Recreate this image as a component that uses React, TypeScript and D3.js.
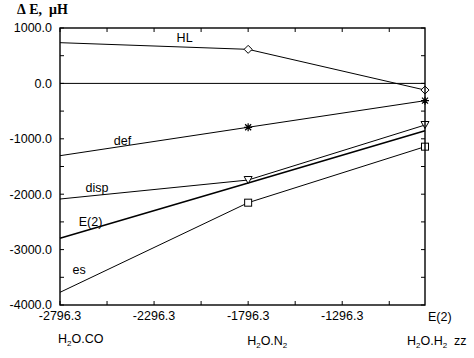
import React, { useRef, useEffect } from 'react'
import * as d3 from 'd3'

// E(2) values of the three complexes (x positions)
const complexes = ['H2O.CO', 'H2O.N2', 'H2O.H2 zz']
const e2 = [-2796.3, -1796.3, -856.3]

// energy components, μH
const hl = [735, 615, -120]
const def = [-1305, -792, -312]
const disp = [-2087, -1744, -751]
const es = [-3771, -2153, -1142]

const xTickValues = [-2796.3, -2296.3, -1796.3, -1296.3]
const yTickValues = [1000, 0, -1000, -2000, -3000, -4000]

const series = [
  { name: 'HL', values: hl, marker: 'diamond', width: 1, label: [-2134, 747] },
  { name: 'def', values: def, marker: 'star', width: 1, label: [-2464, -1112] },
  { name: 'disp', values: disp, marker: 'triangle', width: 1, label: [-2600, -1960] },
  { name: 'E(2)', values: e2, marker: null, width: 1.6, label: [-2634, -2574] },
  { name: 'es', values: es, marker: 'square', width: 1, label: [-2695, -3440] },
]

const width = 474
const height = 358
const marginLeft = 60
const marginRight = 49
const marginTop = 28
const marginBottom = 53

const fmt = v => d3.format('.1f')(v).replace('\u2212', '-')

const Chart = () => {
  const svgRef = useRef(null)

  useEffect(() => {
    const svg = d3.select(svgRef.current)
    svg.selectAll('*').remove()

    const x = d3.scaleLinear([e2[0], e2[2]], [marginLeft, width - marginRight])
    const y = d3.scaleLinear([-4000, 1000], [height - marginBottom, marginTop])
    const sans = 'Liberation Sans, Arial, sans-serif'

    // minor + major ticks, all pointing inward
    const xt = d3.range(e2[0], e2[2], 250)
    const yt = d3.range(-4000, 1001, 500)
    const tk = svg.append('g').attr('stroke', '#000').attr('stroke-width', 1)
    xt.forEach(v => {
      tk.append('line').attr('x1', x(v)).attr('x2', x(v)).attr('y1', y(-4000)).attr('y2', y(-4000) - 4)
      tk.append('line').attr('x1', x(v)).attr('x2', x(v)).attr('y1', y(1000)).attr('y2', y(1000) + 4)
    })
    yt.forEach(v => {
      tk.append('line').attr('x1', x(e2[0])).attr('x2', x(e2[0]) + 4).attr('y1', y(v)).attr('y2', y(v))
      tk.append('line').attr('x1', x(e2[2])).attr('x2', x(e2[2]) - 4).attr('y1', y(v)).attr('y2', y(v))
    })

    // zero line
    svg.append('line')
      .attr('x1', x(e2[0])).attr('x2', x(e2[2]))
      .attr('y1', y(0)).attr('y2', y(0))
      .attr('stroke', '#000').attr('stroke-width', 1)

    const line = d3.line<number>().x((d, i) => x(e2[i])).y(d => y(d))

    series.forEach(s => {
      svg.append('path')
        .attr('d', line(s.values))
        .attr('fill', 'none')
        .attr('stroke', '#000')
        .attr('stroke-width', s.width)
    })

    // markers at the two right-hand complexes
    const mk = svg.append('g').attr('stroke', '#000').attr('stroke-width', 1).attr('fill', '#fff')
    series.forEach(s => {
      if (!s.marker) return
      ;[1, 2].forEach(i => {
        const cx = x(e2[i]), cy = y(s.values[i])
        if (s.marker === 'diamond') {
          mk.append('path').attr('d', `M${cx},${cy - 4}L${cx + 4},${cy}L${cx},${cy + 4}L${cx - 4},${cy}Z`)
        } else if (s.marker === 'square') {
          mk.append('rect').attr('x', cx - 3.5).attr('y', cy - 3.5).attr('width', 7).attr('height', 7)
        } else if (s.marker === 'triangle') {
          mk.append('path').attr('d', `M${cx - 4},${cy - 3.5}L${cx + 4},${cy - 3.5}L${cx},${cy + 3.5}Z`)
        } else if (s.marker === 'star') {
          mk.append('path')
            .attr('d', `M${cx - 4},${cy}L${cx + 4},${cy}M${cx},${cy - 4}L${cx},${cy + 4}M${cx - 3},${cy - 3}L${cx + 3},${cy + 3}M${cx - 3},${cy + 3}L${cx + 3},${cy - 3}`)
            .attr('stroke-width', 1.2)
        }
      })
    })

    // series labels
    series.forEach(s => {
      svg.append('text')
        .attr('x', x(s.label[0])).attr('y', y(s.label[1]))
        .attr('text-anchor', 'middle')
        .attr('font-family', sans).attr('font-size', 12.5)
        .text(s.name)
    })

    // frame
    svg.append('rect')
      .attr('x', x(e2[0])).attr('y', y(1000))
      .attr('width', x(e2[2]) - x(e2[0])).attr('height', y(-4000) - y(1000))
      .attr('fill', 'none').attr('stroke', '#000').attr('stroke-width', 1.4)

    // y tick labels
    svg.append('g').selectAll('text').data(yTickValues).join('text')
      .attr('x', marginLeft - 8).attr('y', d => y(d)).attr('dy', '0.35em')
      .attr('text-anchor', 'end')
      .attr('font-family', sans).attr('font-size', 12.5)
      .text(d => fmt(d))

    // x tick labels
    svg.append('g').selectAll('text').data(xTickValues).join('text')
      .attr('x', d => x(d)).attr('y', height - marginBottom + 15)
      .attr('text-anchor', 'middle')
      .attr('font-family', sans).attr('font-size', 12.5)
      .text(d => fmt(d))
    svg.append('text')
      .attr('x', x(e2[2]) + 3).attr('y', height - marginBottom + 16)
      .attr('font-family', sans).attr('font-size', 12.5)
      .text('E(2)')

    // complex names with subscripts
    const names = svg.append('g').attr('font-family', sans).attr('font-size', 12.5)
    const sub = (t, s) => {
      t.append('tspan').attr('font-size', 8).attr('dy', 3).text(s)
      return t
    }
    const t0 = names.append('text').attr('x', x(e2[0]) - 2).attr('y', height - 15)
    t0.append('tspan').text('H')
    sub(t0, '2')
    t0.append('tspan').attr('dy', -3).text('O.CO')

    const t1 = names.append('text').attr('x', x(e2[1]) - 1).attr('y', height - 13)
    t1.append('tspan').text('H')
    sub(t1, '2')
    t1.append('tspan').attr('dy', -3).text('O.N')
    sub(t1, '2')

    const t2 = names.append('text').attr('x', x(e2[2]) - 18).attr('y', height - 13)
    t2.append('tspan').text('H')
    sub(t2, '2')
    t2.append('tspan').attr('dy', -3).text('O.H')
    sub(t2, '2')
    t2.append('tspan').attr('dy', -3).text('\u00a0 zz')

    // y axis title
    svg.append('text')
      .attr('x', 17).attr('y', 14)
      .attr('font-family', 'Liberation Serif, serif').attr('font-size', 14).attr('font-weight', 'bold')
      .attr('xml:space', 'preserve')
      .text('\u0394\u00a0E,\u00a0\u00a0\u03bcH')
  }, [])

  return (
    <svg ref={svgRef} width={width} height={height}
      style={{ position: 'absolute', left: 0, top: 0, background: '#fff' }} />
  )
}

export default function App() {
  return <Chart />
}
